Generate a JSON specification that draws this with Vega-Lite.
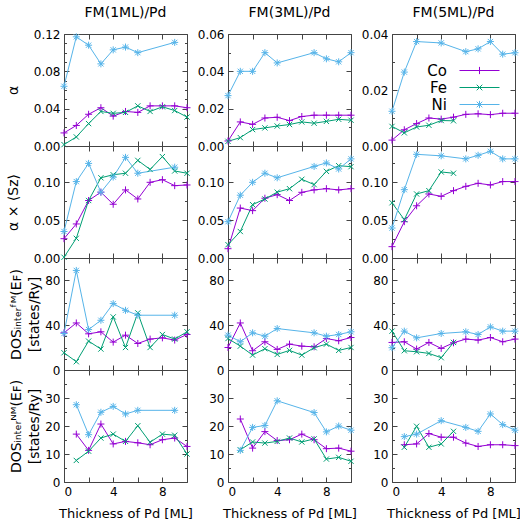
{
  "$schema": "https://vega.github.io/schema/vega-lite/v6.json",
  "background": "white",
  "padding": {"left": 5, "top": 5, "right": 2, "bottom": 0},
  "bounds": "flush",
  "columns": 3,
  "spacing": {"row": 0, "column": 41},
  "resolve": {"scale": {"color": "independent", "shape": "independent"}},
  "config": {
    "font": "DejaVu Sans",
    "view": {"stroke": "#444", "strokeWidth": 1},
    "range": {
      "category": ["#9400d3", "#009e73", "#56b4e9"],
      "symbol": [
        "M0,-1V1M-1,0H1",
        "M-0.75,-0.75L0.75,0.75M-0.75,0.75L0.75,-0.75",
        "M0,-1V1M-1,0H1M-0.75,-0.75L0.75,0.75M-0.75,0.75L0.75,-0.75"
      ]
    },
    "axis": {
      "domain": false, "grid": false, "tickSize": -5, "tickColor": "#444",
      "labelPadding": 9, "labelFont": "DejaVu Sans", "labelFontSize": 12, "labelColor": "black",
      "titleFont": "DejaVu Sans", "titleFontSize": 14, "titleFontWeight": "normal", "titleColor": "black"
    },
    "title": {"font": "DejaVu Sans", "fontSize": 14, "fontWeight": "normal", "offset": 8},
    "legend": {"labelFont": "DejaVu Sans", "labelFontSize": 15, "labelColor": "black"}
  },
  "datasets": {
    "r1c1": [
      {"x": 0, "Co": 0.014, "Fe": 0.0015, "Ni": 0.064},
      {"x": 1, "Co": 0.022, "Fe": 0.0097, "Ni": 0.117},
      {"x": 2, "Co": 0.034, "Fe": 0.024, "Ni": 0.108},
      {"x": 3, "Co": 0.041, "Fe": 0.037, "Ni": 0.088},
      {"x": 4, "Co": 0.032, "Fe": 0.035, "Ni": 0.103},
      {"x": 5, "Co": 0.037, "Fe": 0.036, "Ni": 0.106},
      {"x": 6, "Co": 0.036, "Fe": 0.043, "Ni": 0.100},
      {"x": 7, "Co": 0.043, "Fe": 0.037},
      {"x": 8, "Co": 0.043, "Fe": 0.042},
      {"x": 9, "Co": 0.043, "Fe": 0.038, "Ni": 0.111},
      {"x": 10, "Co": 0.041, "Fe": 0.031}
    ],
    "r1c2": [
      {"x": 0, "Co": 0.0027, "Fe": 0.0025, "Ni": 0.027},
      {"x": 1, "Co": 0.0129, "Fe": 0.0045, "Ni": 0.040},
      {"x": 2, "Co": 0.0116, "Fe": 0.0088, "Ni": 0.040},
      {"x": 3, "Co": 0.015, "Fe": 0.0097, "Ni": 0.050},
      {"x": 4, "Co": 0.0154, "Fe": 0.0107, "Ni": 0.0445},
      {"x": 5, "Co": 0.0136, "Fe": 0.0115},
      {"x": 6, "Co": 0.0158, "Fe": 0.0129},
      {"x": 7, "Co": 0.0165, "Fe": 0.0122, "Ni": 0.050},
      {"x": 8, "Co": 0.0165, "Fe": 0.0132, "Ni": 0.0467},
      {"x": 9, "Co": 0.0165, "Fe": 0.0143, "Ni": 0.0451},
      {"x": 10, "Co": 0.0165, "Fe": 0.0138, "Ni": 0.050}
    ],
    "r1c3": [
      {"x": 0, "Co": 0.0021, "Fe": 0.0070, "Ni": 0.0124},
      {"x": 1, "Co": 0.0058, "Fe": 0.0047, "Ni": 0.0264},
      {"x": 2, "Co": 0.0080, "Fe": 0.0068, "Ni": 0.0373},
      {"x": 3, "Co": 0.0100, "Fe": 0.0074},
      {"x": 4, "Co": 0.0096, "Fe": 0.0091, "Ni": 0.0368},
      {"x": 5, "Co": 0.0103, "Fe": 0.0090},
      {"x": 6, "Co": 0.0113, "Ni": 0.0337},
      {"x": 7, "Co": 0.0115, "Ni": 0.0347},
      {"x": 8, "Co": 0.0112, "Ni": 0.0373},
      {"x": 9, "Co": 0.0117, "Ni": 0.0328},
      {"x": 10, "Co": 0.0117, "Ni": 0.0333}
    ],
    "r2c1": [
      {"x": 0, "Co": 0.0255, "Fe": 0.001, "Ni": 0.035},
      {"x": 1, "Co": 0.045, "Fe": 0.026, "Ni": 0.101},
      {"x": 2, "Co": 0.076, "Fe": 0.076, "Ni": 0.125},
      {"x": 3, "Co": 0.087, "Fe": 0.106, "Ni": 0.087},
      {"x": 4, "Co": 0.071, "Fe": 0.110, "Ni": 0.107},
      {"x": 5, "Co": 0.090, "Fe": 0.112, "Ni": 0.133},
      {"x": 6, "Co": 0.078, "Fe": 0.129, "Ni": 0.112},
      {"x": 7, "Co": 0.100, "Fe": 0.117},
      {"x": 8, "Co": 0.1035, "Fe": 0.134},
      {"x": 9, "Co": 0.0956, "Fe": 0.115, "Ni": 0.120},
      {"x": 10, "Co": 0.0965, "Fe": 0.112}
    ],
    "r2c2": [
      {"x": 0, "Co": 0.0123, "Fe": 0.0176, "Ni": 0.048},
      {"x": 1, "Co": 0.066, "Fe": 0.035, "Ni": 0.083},
      {"x": 2, "Co": 0.0626, "Fe": 0.0705, "Ni": 0.100},
      {"x": 3, "Co": 0.079, "Fe": 0.078, "Ni": 0.112},
      {"x": 4, "Co": 0.0837, "Fe": 0.087, "Ni": 0.106},
      {"x": 5, "Co": 0.076, "Fe": 0.0916},
      {"x": 6, "Co": 0.0868, "Fe": 0.104},
      {"x": 7, "Co": 0.090, "Fe": 0.097, "Ni": 0.121},
      {"x": 8, "Co": 0.0916, "Fe": 0.1145, "Ni": 0.1256},
      {"x": 9, "Co": 0.090, "Fe": 0.122, "Ni": 0.1176},
      {"x": 10, "Co": 0.0916, "Fe": 0.1207, "Ni": 0.131}
    ],
    "r2c3": [
      {"x": 0, "Co": 0.015, "Fe": 0.073, "Ni": 0.0396},
      {"x": 1, "Co": 0.048, "Fe": 0.0507, "Ni": 0.0903},
      {"x": 2, "Co": 0.069, "Fe": 0.0846, "Ni": 0.137},
      {"x": 3, "Co": 0.0846, "Fe": 0.089},
      {"x": 4, "Co": 0.0815, "Fe": 0.1137, "Ni": 0.135},
      {"x": 5, "Co": 0.089, "Fe": 0.112},
      {"x": 6, "Co": 0.0947, "Ni": 0.131},
      {"x": 7, "Co": 0.0987, "Ni": 0.1357},
      {"x": 8, "Co": 0.0965, "Ni": 0.141},
      {"x": 9, "Co": 0.101, "Ni": 0.131},
      {"x": 10, "Co": 0.101, "Ni": 0.131}
    ],
    "r3c1": [
      {"x": 0, "Co": 33.2, "Fe": 15.4, "Ni": 32.6},
      {"x": 1, "Co": 42, "Fe": 7.4, "Ni": 88.9},
      {"x": 2, "Co": 32.3, "Fe": 25.8, "Ni": 36.1},
      {"x": 3, "Co": 34.1, "Fe": 18.7, "Ni": 44.4},
      {"x": 4, "Co": 24.9, "Fe": 47.4, "Ni": 59.3},
      {"x": 5, "Co": 31.1, "Fe": 20.1, "Ni": 53.3},
      {"x": 6, "Co": 23.7, "Fe": 51, "Ni": 48.9},
      {"x": 7, "Co": 27.6, "Fe": 20.1},
      {"x": 8, "Co": 28.7, "Fe": 31.7},
      {"x": 9, "Co": 26.7, "Fe": 27.6, "Ni": 48.9},
      {"x": 10, "Co": 31.7, "Fe": 34.1}
    ],
    "r3c2": [
      {"x": 0, "Co": 20.1, "Fe": 28.1, "Ni": 31.1},
      {"x": 1, "Co": 42, "Fe": 21.3, "Ni": 25.2},
      {"x": 2, "Co": 17.2, "Fe": 13.3, "Ni": 33.2},
      {"x": 3, "Co": 25.2, "Fe": 19, "Ni": 30.2},
      {"x": 4, "Co": 18.4, "Fe": 13.9, "Ni": 37},
      {"x": 5, "Co": 23.1, "Fe": 17.5},
      {"x": 6, "Co": 21.3, "Fe": 13.3},
      {"x": 7, "Co": 20.7, "Fe": 19.9, "Ni": 33.2},
      {"x": 8, "Co": 28.1, "Fe": 23.1, "Ni": 30.2},
      {"x": 9, "Co": 26.1, "Fe": 17.5, "Ni": 31.7},
      {"x": 10, "Co": 29, "Fe": 20.1, "Ni": 34.1}
    ],
    "r3c3": [
      {"x": 0, "Co": 24.6, "Fe": 34.7, "Ni": 19.9},
      {"x": 1, "Co": 25.2, "Fe": 17.2, "Ni": 34.7},
      {"x": 2, "Co": 18.7, "Fe": 16.3, "Ni": 28.7},
      {"x": 3, "Co": 24.6, "Fe": 14.8},
      {"x": 4, "Co": 19.3, "Fe": 11.0, "Ni": 32.6},
      {"x": 5, "Co": 24.3, "Fe": 24.6},
      {"x": 6, "Co": 27.6, "Ni": 34.1},
      {"x": 7, "Co": 26.7, "Ni": 31.7},
      {"x": 8, "Co": 29, "Ni": 38.5},
      {"x": 9, "Co": 25.2, "Ni": 34.7},
      {"x": 10, "Co": 27.6, "Ni": 34.7}
    ],
    "r4c1": [
      {"x": 1, "Co": 17.1, "Fe": 7.7, "Ni": 27.6},
      {"x": 2, "Co": 11.3, "Fe": 11.0, "Ni": 16.9},
      {"x": 3, "Co": 20.7, "Fe": 15.7, "Ni": 24.9},
      {"x": 4, "Co": 13.6, "Fe": 17.1, "Ni": 27.0},
      {"x": 5, "Co": 14.5, "Fe": 14.5, "Ni": 24.3},
      {"x": 6, "Co": 14.0, "Fe": 20.1, "Ni": 25.6},
      {"x": 7, "Co": 13.3, "Fe": 14.2},
      {"x": 8, "Co": 15.1, "Fe": 17.1},
      {"x": 9, "Co": 15.7, "Fe": 16.7, "Ni": 25.6},
      {"x": 10, "Co": 12.7, "Fe": 10.0}
    ],
    "r4c2": [
      {"x": 1, "Co": 22.5, "Fe": 11.5, "Ni": 11.3},
      {"x": 2, "Co": 12.1, "Fe": 14.3, "Ni": 19.5},
      {"x": 3, "Co": 18.0, "Fe": 13.9, "Ni": 20.2},
      {"x": 4, "Co": 14.8, "Fe": 14.5, "Ni": 29.0},
      {"x": 5, "Co": 15.1, "Fe": 15.7},
      {"x": 6, "Co": 17.1, "Fe": 14.3},
      {"x": 7, "Co": 15.1, "Fe": 15.4, "Ni": 24.8},
      {"x": 8, "Co": 11.9, "Fe": 8.2, "Ni": 17.9},
      {"x": 9, "Co": 12.1, "Fe": 8.8, "Ni": 20.0},
      {"x": 10, "Co": 11.0, "Fe": 7.4, "Ni": 18.5}
    ],
    "r4c3": [
      {"x": 1, "Co": 13.3, "Fe": 12.4, "Ni": 16.2},
      {"x": 2, "Co": 13.6, "Fe": 19.9, "Ni": 17.1},
      {"x": 3, "Co": 17.3, "Fe": 12.4},
      {"x": 4, "Co": 16.0, "Fe": 13.6, "Ni": 21.9},
      {"x": 5, "Co": 16.0, "Fe": 18.1},
      {"x": 6, "Co": 13.9, "Ni": 19.5},
      {"x": 7, "Co": 12.7, "Ni": 18.1},
      {"x": 8, "Co": 13.3, "Ni": 24.3},
      {"x": 9, "Co": 13.3, "Ni": 20.5},
      {"x": 10, "Co": 13.0, "Ni": 18.5}
    ]
  },
  "concat": [
    {
      "width": 123, "height": 112,
      "title": "FM(1ML)/Pd",
      "data": {"name": "r1c1"},
      "transform": [{"fold": ["Co", "Fe", "Ni"], "as": ["el", "v"]}, {"filter": "isValid(datum.v)"}],
      "resolve": {"axis": {"x": "independent", "y": "independent"}},
      "layer": [
        {"mark": {"type": "line", "strokeWidth": 1},
         "encoding": {
           "x": {"field": "x", "type": "quantitative", "scale": {"domain": [0, 10], "nice": false}, "axis": {"values": [0, 2, 4, 6, 8, 10], "labels": false, "title": null}},
           "y": {"field": "v", "type": "quantitative", "scale": {"domain": [0, 0.12], "nice": false}, "axis": {"values": [0, 0.01, 0.02, 0.03, 0.04, 0.05, 0.06, 0.07, 0.08, 0.09, 0.1, 0.11, 0.12], "format": ".2f", "labelExpr": "abs(datum.value/0.04 - round(datum.value/0.04)) < 1e-6 ? datum.label : ''", "tickDash": {"condition": {"test": "abs(datum.value/0.04 - round(datum.value/0.04)) < 1e-6", "value": [6, 0]}, "value": [2.5, 10]}, "title": "α", "titlePadding": 13}},
           "color": {"field": "el", "type": "nominal", "legend": null}}},
        {"mark": {"type": "point", "filled": false, "strokeWidth": 1, "size": 49, "opacity": 1},
         "encoding": {
           "x": {"field": "x", "type": "quantitative", "axis": {"orient": "top", "values": [0, 2, 4, 6, 8, 10], "labels": false, "title": null}},
           "y": {"field": "v", "type": "quantitative", "axis": {"orient": "right", "values": [0, 0.01, 0.02, 0.03, 0.04, 0.05, 0.06, 0.07, 0.08, 0.09, 0.1, 0.11, 0.12], "labels": false, "tickDash": {"condition": {"test": "abs(datum.value/0.04 - round(datum.value/0.04)) < 1e-6", "value": [6, 0]}, "value": [2.5, 10]}, "title": null}},
           "color": {"field": "el", "type": "nominal", "legend": null},
           "shape": {"field": "el", "type": "nominal", "legend": null}}}
      ]
    },
    {
      "width": 123, "height": 112,
      "title": "FM(3ML)/Pd",
      "data": {"name": "r1c2"},
      "transform": [{"fold": ["Co", "Fe", "Ni"], "as": ["el", "v"]}, {"filter": "isValid(datum.v)"}],
      "resolve": {"axis": {"x": "independent", "y": "independent"}},
      "layer": [
        {"mark": {"type": "line", "strokeWidth": 1},
         "encoding": {
           "x": {"field": "x", "type": "quantitative", "scale": {"domain": [0, 10], "nice": false}, "axis": {"values": [0, 2, 4, 6, 8, 10], "labels": false, "title": null}},
           "y": {"field": "v", "type": "quantitative", "scale": {"domain": [0, 0.06], "nice": false}, "axis": {"values": [0, 0.01, 0.02, 0.03, 0.04, 0.05, 0.06], "format": ".2f", "labelExpr": "abs(datum.value/0.02 - round(datum.value/0.02)) < 1e-6 ? datum.label : ''", "tickDash": {"condition": {"test": "abs(datum.value/0.02 - round(datum.value/0.02)) < 1e-6", "value": [6, 0]}, "value": [2.5, 10]}, "title": null}},
           "color": {"field": "el", "type": "nominal", "legend": null}}},
        {"mark": {"type": "point", "filled": false, "strokeWidth": 1, "size": 49, "opacity": 1},
         "encoding": {
           "x": {"field": "x", "type": "quantitative", "axis": {"orient": "top", "values": [0, 2, 4, 6, 8, 10], "labels": false, "title": null}},
           "y": {"field": "v", "type": "quantitative", "axis": {"orient": "right", "values": [0, 0.01, 0.02, 0.03, 0.04, 0.05, 0.06], "labels": false, "tickDash": {"condition": {"test": "abs(datum.value/0.02 - round(datum.value/0.02)) < 1e-6", "value": [6, 0]}, "value": [2.5, 10]}, "title": null}},
           "color": {"field": "el", "type": "nominal", "legend": null},
           "shape": {"field": "el", "type": "nominal", "legend": null}}}
      ]
    },
    {
      "width": 123, "height": 112,
      "title": "FM(5ML)/Pd",
      "data": {"name": "r1c3"},
      "transform": [{"fold": ["Co", "Fe", "Ni"], "as": ["el", "v"]}, {"filter": "isValid(datum.v)"}],
      "resolve": {"axis": {"x": "independent", "y": "independent"}, "scale": {"color": "independent", "shape": "independent"}, "legend": {"color": "independent", "shape": "independent"}},
      "layer": [
        {"mark": {"type": "line", "strokeWidth": 1},
         "encoding": {
           "x": {"field": "x", "type": "quantitative", "scale": {"domain": [0, 10], "nice": false}, "axis": {"values": [0, 2, 4, 6, 8, 10], "labels": false, "title": null}},
           "y": {"field": "v", "type": "quantitative", "scale": {"domain": [0, 0.04], "nice": false}, "axis": {"values": [0, 0.01, 0.02, 0.03, 0.04], "format": ".2f", "labelExpr": "abs(datum.value/0.02 - round(datum.value/0.02)) < 1e-6 ? datum.label : ''", "tickDash": {"condition": {"test": "abs(datum.value/0.02 - round(datum.value/0.02)) < 1e-6", "value": [6, 0]}, "value": [2.5, 10]}, "title": null}},
           "color": {"field": "el", "type": "nominal", "legend": null}}},
        {"mark": {"type": "point", "filled": false, "strokeWidth": 1, "size": 49, "opacity": 1},
         "encoding": {
           "x": {"field": "x", "type": "quantitative", "axis": {"orient": "top", "values": [0, 2, 4, 6, 8, 10], "labels": false, "title": null}},
           "y": {"field": "v", "type": "quantitative", "axis": {"orient": "right", "values": [0, 0.01, 0.02, 0.03, 0.04], "labels": false, "tickDash": {"condition": {"test": "abs(datum.value/0.02 - round(datum.value/0.02)) < 1e-6", "value": [6, 0]}, "value": [2.5, 10]}, "title": null}},
           "color": {"field": "el", "type": "nominal", "legend": null},
           "shape": {"field": "el", "type": "nominal", "legend": null}}},
        {"transform": [{"filter": "false"}],
         "mark": {"type": "point", "filled": false, "strokeWidth": 1},
         "encoding": {
           "color": {"field": "el", "type": "nominal",
             "scale": {"domain": ["Co", "Fe", "Ni"], "range": ["#9400d3", "#009e73", "#56b4e9"]},
             "legend": {"title": null, "orient": "none", "legendX": 79, "legendY": 28, "padding": 0,
               "symbolSize": 256, "symbolStrokeWidth": 1, "symbolOpacity": 1,
               "labelAlign": "right", "labelOffset": -41, "rowPadding": 0}},
           "shape": {"field": "el", "type": "nominal",
             "scale": {"domain": ["Co", "Fe", "Ni"], "range": [
               "M-2.5,0H2.5M0,-0.45V0.45",
               "M-2.5,0H2.5M-0.35,-0.35L0.35,0.35M-0.35,0.35L0.35,-0.35",
               "M-2.5,0H2.5M0,-0.45V0.45M-0.35,-0.35L0.35,0.35M-0.35,0.35L0.35,-0.35"]},
             "legend": {"title": null, "orient": "none", "legendX": 79, "legendY": 28, "padding": 0,
               "symbolSize": 256, "symbolStrokeWidth": 1, "symbolOpacity": 1,
               "labelAlign": "right", "labelOffset": -41, "rowPadding": 0}}}}
      ]
    },
    {
      "width": 123, "height": 112,
      "data": {"name": "r2c1"},
      "transform": [{"fold": ["Co", "Fe", "Ni"], "as": ["el", "v"]}, {"filter": "isValid(datum.v)"}],
      "resolve": {"axis": {"x": "independent", "y": "independent"}},
      "layer": [
        {"mark": {"type": "line", "strokeWidth": 1},
         "encoding": {
           "x": {"field": "x", "type": "quantitative", "scale": {"domain": [0, 10], "nice": false}, "axis": {"values": [0, 2, 4, 6, 8, 10], "labels": false, "title": null}},
           "y": {"field": "v", "type": "quantitative", "scale": {"domain": [0, 0.148], "nice": false}, "axis": {"values": [0, 0.025, 0.05, 0.075, 0.1, 0.125], "format": ".2f", "labelExpr": "abs(datum.value/0.05 - round(datum.value/0.05)) < 1e-6 ? datum.label : ''", "tickDash": {"condition": {"test": "abs(datum.value/0.05 - round(datum.value/0.05)) < 1e-6", "value": [6, 0]}, "value": [2.5, 10]}, "title": "α × ⟨Sᴢ⟩", "titlePadding": 13}},
           "color": {"field": "el", "type": "nominal", "legend": null}}},
        {"mark": {"type": "point", "filled": false, "strokeWidth": 1, "size": 49, "opacity": 1},
         "encoding": {
           "x": {"field": "x", "type": "quantitative", "axis": {"orient": "top", "values": [0, 2, 4, 6, 8, 10], "labels": false, "title": null}},
           "y": {"field": "v", "type": "quantitative", "axis": {"orient": "right", "values": [0, 0.025, 0.05, 0.075, 0.1, 0.125], "labels": false, "tickDash": {"condition": {"test": "abs(datum.value/0.05 - round(datum.value/0.05)) < 1e-6", "value": [6, 0]}, "value": [2.5, 10]}, "title": null}},
           "color": {"field": "el", "type": "nominal", "legend": null},
           "shape": {"field": "el", "type": "nominal", "legend": null}}}
      ]
    },
    {
      "width": 123, "height": 112,
      "data": {"name": "r2c2"},
      "transform": [{"fold": ["Co", "Fe", "Ni"], "as": ["el", "v"]}, {"filter": "isValid(datum.v)"}],
      "resolve": {"axis": {"x": "independent", "y": "independent"}},
      "layer": [
        {"mark": {"type": "line", "strokeWidth": 1},
         "encoding": {
           "x": {"field": "x", "type": "quantitative", "scale": {"domain": [0, 10], "nice": false}, "axis": {"values": [0, 2, 4, 6, 8, 10], "labels": false, "title": null}},
           "y": {"field": "v", "type": "quantitative", "scale": {"domain": [0, 0.148], "nice": false}, "axis": {"values": [0, 0.025, 0.05, 0.075, 0.1, 0.125], "format": ".2f", "labelExpr": "abs(datum.value/0.05 - round(datum.value/0.05)) < 1e-6 ? datum.label : ''", "tickDash": {"condition": {"test": "abs(datum.value/0.05 - round(datum.value/0.05)) < 1e-6", "value": [6, 0]}, "value": [2.5, 10]}, "title": null}},
           "color": {"field": "el", "type": "nominal", "legend": null}}},
        {"mark": {"type": "point", "filled": false, "strokeWidth": 1, "size": 49, "opacity": 1},
         "encoding": {
           "x": {"field": "x", "type": "quantitative", "axis": {"orient": "top", "values": [0, 2, 4, 6, 8, 10], "labels": false, "title": null}},
           "y": {"field": "v", "type": "quantitative", "axis": {"orient": "right", "values": [0, 0.025, 0.05, 0.075, 0.1, 0.125], "labels": false, "tickDash": {"condition": {"test": "abs(datum.value/0.05 - round(datum.value/0.05)) < 1e-6", "value": [6, 0]}, "value": [2.5, 10]}, "title": null}},
           "color": {"field": "el", "type": "nominal", "legend": null},
           "shape": {"field": "el", "type": "nominal", "legend": null}}}
      ]
    },
    {
      "width": 123, "height": 112,
      "data": {"name": "r2c3"},
      "transform": [{"fold": ["Co", "Fe", "Ni"], "as": ["el", "v"]}, {"filter": "isValid(datum.v)"}],
      "resolve": {"axis": {"x": "independent", "y": "independent"}},
      "layer": [
        {"mark": {"type": "line", "strokeWidth": 1},
         "encoding": {
           "x": {"field": "x", "type": "quantitative", "scale": {"domain": [0, 10], "nice": false}, "axis": {"values": [0, 2, 4, 6, 8, 10], "labels": false, "title": null}},
           "y": {"field": "v", "type": "quantitative", "scale": {"domain": [0, 0.148], "nice": false}, "axis": {"values": [0, 0.025, 0.05, 0.075, 0.1, 0.125], "format": ".2f", "labelExpr": "abs(datum.value/0.05 - round(datum.value/0.05)) < 1e-6 ? datum.label : ''", "tickDash": {"condition": {"test": "abs(datum.value/0.05 - round(datum.value/0.05)) < 1e-6", "value": [6, 0]}, "value": [2.5, 10]}, "title": null}},
           "color": {"field": "el", "type": "nominal", "legend": null}}},
        {"mark": {"type": "point", "filled": false, "strokeWidth": 1, "size": 49, "opacity": 1},
         "encoding": {
           "x": {"field": "x", "type": "quantitative", "axis": {"orient": "top", "values": [0, 2, 4, 6, 8, 10], "labels": false, "title": null}},
           "y": {"field": "v", "type": "quantitative", "axis": {"orient": "right", "values": [0, 0.025, 0.05, 0.075, 0.1, 0.125], "labels": false, "tickDash": {"condition": {"test": "abs(datum.value/0.05 - round(datum.value/0.05)) < 1e-6", "value": [6, 0]}, "value": [2.5, 10]}, "title": null}},
           "color": {"field": "el", "type": "nominal", "legend": null},
           "shape": {"field": "el", "type": "nominal", "legend": null}}}
      ]
    },
    {
      "width": 123, "height": 112,
      "data": {"name": "r3c1"},
      "transform": [{"fold": ["Co", "Fe", "Ni"], "as": ["el", "v"]}, {"filter": "isValid(datum.v)"}],
      "resolve": {"axis": {"x": "independent", "y": "independent"}},
      "layer": [
        {"mark": {"type": "line", "strokeWidth": 1},
         "encoding": {
           "x": {"field": "x", "type": "quantitative", "scale": {"domain": [0, 10], "nice": false}, "axis": {"values": [0, 2, 4, 6, 8, 10], "labels": false, "title": null}},
           "y": {"field": "v", "type": "quantitative", "scale": {"domain": [0, 100], "nice": false}, "axis": {"values": [0, 10, 20, 30, 40, 50, 60, 70, 80, 90], "format": "d", "labelExpr": "datum.value % 40 === 0 ? datum.label : ''", "tickDash": {"condition": {"test": "datum.value % 40 === 0", "value": [6, 0]}, "value": [2.5, 10]}, "title": ["DOSᵢₙₜₑᵣᶠᴹ(Eꜰ)", "[states/Ry]"], "titlePadding": 3, "titleLineHeight": 18}},
           "color": {"field": "el", "type": "nominal", "legend": null}}},
        {"mark": {"type": "point", "filled": false, "strokeWidth": 1, "size": 49, "opacity": 1},
         "encoding": {
           "x": {"field": "x", "type": "quantitative", "axis": {"orient": "top", "values": [0, 2, 4, 6, 8, 10], "labels": false, "title": null}},
           "y": {"field": "v", "type": "quantitative", "axis": {"orient": "right", "values": [0, 10, 20, 30, 40, 50, 60, 70, 80, 90], "labels": false, "tickDash": {"condition": {"test": "datum.value % 40 === 0", "value": [6, 0]}, "value": [2.5, 10]}, "title": null}},
           "color": {"field": "el", "type": "nominal", "legend": null},
           "shape": {"field": "el", "type": "nominal", "legend": null}}}
      ]
    },
    {
      "width": 123, "height": 112,
      "data": {"name": "r3c2"},
      "transform": [{"fold": ["Co", "Fe", "Ni"], "as": ["el", "v"]}, {"filter": "isValid(datum.v)"}],
      "resolve": {"axis": {"x": "independent", "y": "independent"}},
      "layer": [
        {"mark": {"type": "line", "strokeWidth": 1},
         "encoding": {
           "x": {"field": "x", "type": "quantitative", "scale": {"domain": [0, 10], "nice": false}, "axis": {"values": [0, 2, 4, 6, 8, 10], "labels": false, "title": null}},
           "y": {"field": "v", "type": "quantitative", "scale": {"domain": [0, 100], "nice": false}, "axis": {"values": [0, 10, 20, 30, 40, 50, 60, 70, 80, 90], "format": "d", "labelExpr": "datum.value % 40 === 0 ? datum.label : ''", "tickDash": {"condition": {"test": "datum.value % 40 === 0", "value": [6, 0]}, "value": [2.5, 10]}, "title": null}},
           "color": {"field": "el", "type": "nominal", "legend": null}}},
        {"mark": {"type": "point", "filled": false, "strokeWidth": 1, "size": 49, "opacity": 1},
         "encoding": {
           "x": {"field": "x", "type": "quantitative", "axis": {"orient": "top", "values": [0, 2, 4, 6, 8, 10], "labels": false, "title": null}},
           "y": {"field": "v", "type": "quantitative", "axis": {"orient": "right", "values": [0, 10, 20, 30, 40, 50, 60, 70, 80, 90], "labels": false, "tickDash": {"condition": {"test": "datum.value % 40 === 0", "value": [6, 0]}, "value": [2.5, 10]}, "title": null}},
           "color": {"field": "el", "type": "nominal", "legend": null},
           "shape": {"field": "el", "type": "nominal", "legend": null}}}
      ]
    },
    {
      "width": 123, "height": 112,
      "data": {"name": "r3c3"},
      "transform": [{"fold": ["Co", "Fe", "Ni"], "as": ["el", "v"]}, {"filter": "isValid(datum.v)"}],
      "resolve": {"axis": {"x": "independent", "y": "independent"}},
      "layer": [
        {"mark": {"type": "line", "strokeWidth": 1},
         "encoding": {
           "x": {"field": "x", "type": "quantitative", "scale": {"domain": [0, 10], "nice": false}, "axis": {"values": [0, 2, 4, 6, 8, 10], "labels": false, "title": null}},
           "y": {"field": "v", "type": "quantitative", "scale": {"domain": [0, 100], "nice": false}, "axis": {"values": [0, 10, 20, 30, 40, 50, 60, 70, 80, 90], "format": "d", "labelExpr": "datum.value % 40 === 0 ? datum.label : ''", "tickDash": {"condition": {"test": "datum.value % 40 === 0", "value": [6, 0]}, "value": [2.5, 10]}, "title": null}},
           "color": {"field": "el", "type": "nominal", "legend": null}}},
        {"mark": {"type": "point", "filled": false, "strokeWidth": 1, "size": 49, "opacity": 1},
         "encoding": {
           "x": {"field": "x", "type": "quantitative", "axis": {"orient": "top", "values": [0, 2, 4, 6, 8, 10], "labels": false, "title": null}},
           "y": {"field": "v", "type": "quantitative", "axis": {"orient": "right", "values": [0, 10, 20, 30, 40, 50, 60, 70, 80, 90], "labels": false, "tickDash": {"condition": {"test": "datum.value % 40 === 0", "value": [6, 0]}, "value": [2.5, 10]}, "title": null}},
           "color": {"field": "el", "type": "nominal", "legend": null},
           "shape": {"field": "el", "type": "nominal", "legend": null}}}
      ]
    },
    {
      "width": 123, "height": 112,
      "data": {"name": "r4c1"},
      "transform": [{"fold": ["Co", "Fe", "Ni"], "as": ["el", "v"]}, {"filter": "isValid(datum.v)"}],
      "resolve": {"axis": {"x": "independent", "y": "independent"}},
      "layer": [
        {"mark": {"type": "line", "strokeWidth": 1},
         "encoding": {
           "x": {"field": "x", "type": "quantitative", "scale": {"domain": [0, 10], "nice": false}, "axis": {"values": [0, 2, 4, 6, 8, 10], "labelExpr": "datum.value % 4 === 0 ? datum.label : ''", "title": "Thickness of Pd [ML]", "titleFontSize": 13, "titlePadding": 10}},
           "y": {"field": "v", "type": "quantitative", "scale": {"domain": [0, 40], "nice": false}, "axis": {"values": [0, 5, 10, 15, 20, 25, 30, 35], "format": "d", "labelExpr": "datum.value % 10 === 0 ? datum.label : ''", "tickDash": {"condition": {"test": "datum.value % 10 === 0", "value": [6, 0]}, "value": [2.5, 10]}, "title": ["DOSᵢₙₜₑᵣᴺᴹ(Eꜰ)", "[states/Ry]"], "titlePadding": 3, "titleLineHeight": 18}},
           "color": {"field": "el", "type": "nominal", "legend": null}}},
        {"mark": {"type": "point", "filled": false, "strokeWidth": 1, "size": 49, "opacity": 1},
         "encoding": {
           "x": {"field": "x", "type": "quantitative", "axis": {"orient": "top", "values": [0, 2, 4, 6, 8, 10], "labels": false, "title": null}},
           "y": {"field": "v", "type": "quantitative", "axis": {"orient": "right", "values": [0, 5, 10, 15, 20, 25, 30, 35], "labels": false, "tickDash": {"condition": {"test": "datum.value % 10 === 0", "value": [6, 0]}, "value": [2.5, 10]}, "title": null}},
           "color": {"field": "el", "type": "nominal", "legend": null},
           "shape": {"field": "el", "type": "nominal", "legend": null}}}
      ]
    },
    {
      "width": 123, "height": 112,
      "data": {"name": "r4c2"},
      "transform": [{"fold": ["Co", "Fe", "Ni"], "as": ["el", "v"]}, {"filter": "isValid(datum.v)"}],
      "resolve": {"axis": {"x": "independent", "y": "independent"}},
      "layer": [
        {"mark": {"type": "line", "strokeWidth": 1},
         "encoding": {
           "x": {"field": "x", "type": "quantitative", "scale": {"domain": [0, 10], "nice": false}, "axis": {"values": [0, 2, 4, 6, 8, 10], "labelExpr": "datum.value % 4 === 0 ? datum.label : ''", "title": "Thickness of Pd [ML]", "titleFontSize": 13, "titlePadding": 10}},
           "y": {"field": "v", "type": "quantitative", "scale": {"domain": [0, 40], "nice": false}, "axis": {"values": [0, 5, 10, 15, 20, 25, 30, 35], "format": "d", "labelExpr": "datum.value % 10 === 0 ? datum.label : ''", "tickDash": {"condition": {"test": "datum.value % 10 === 0", "value": [6, 0]}, "value": [2.5, 10]}, "title": null}},
           "color": {"field": "el", "type": "nominal", "legend": null}}},
        {"mark": {"type": "point", "filled": false, "strokeWidth": 1, "size": 49, "opacity": 1},
         "encoding": {
           "x": {"field": "x", "type": "quantitative", "axis": {"orient": "top", "values": [0, 2, 4, 6, 8, 10], "labels": false, "title": null}},
           "y": {"field": "v", "type": "quantitative", "axis": {"orient": "right", "values": [0, 5, 10, 15, 20, 25, 30, 35], "labels": false, "tickDash": {"condition": {"test": "datum.value % 10 === 0", "value": [6, 0]}, "value": [2.5, 10]}, "title": null}},
           "color": {"field": "el", "type": "nominal", "legend": null},
           "shape": {"field": "el", "type": "nominal", "legend": null}}}
      ]
    },
    {
      "width": 123, "height": 112,
      "data": {"name": "r4c3"},
      "transform": [{"fold": ["Co", "Fe", "Ni"], "as": ["el", "v"]}, {"filter": "isValid(datum.v)"}],
      "resolve": {"axis": {"x": "independent", "y": "independent"}},
      "layer": [
        {"mark": {"type": "line", "strokeWidth": 1},
         "encoding": {
           "x": {"field": "x", "type": "quantitative", "scale": {"domain": [0, 10], "nice": false}, "axis": {"values": [0, 2, 4, 6, 8, 10], "labelExpr": "datum.value % 4 === 0 ? datum.label : ''", "title": "Thickness of Pd [ML]", "titleFontSize": 13, "titlePadding": 10}},
           "y": {"field": "v", "type": "quantitative", "scale": {"domain": [0, 40], "nice": false}, "axis": {"values": [0, 5, 10, 15, 20, 25, 30, 35], "format": "d", "labelExpr": "datum.value % 10 === 0 ? datum.label : ''", "tickDash": {"condition": {"test": "datum.value % 10 === 0", "value": [6, 0]}, "value": [2.5, 10]}, "title": null}},
           "color": {"field": "el", "type": "nominal", "legend": null}}},
        {"mark": {"type": "point", "filled": false, "strokeWidth": 1, "size": 49, "opacity": 1},
         "encoding": {
           "x": {"field": "x", "type": "quantitative", "axis": {"orient": "top", "values": [0, 2, 4, 6, 8, 10], "labels": false, "title": null}},
           "y": {"field": "v", "type": "quantitative", "axis": {"orient": "right", "values": [0, 5, 10, 15, 20, 25, 30, 35], "labels": false, "tickDash": {"condition": {"test": "datum.value % 10 === 0", "value": [6, 0]}, "value": [2.5, 10]}, "title": null}},
           "color": {"field": "el", "type": "nominal", "legend": null},
           "shape": {"field": "el", "type": "nominal", "legend": null}}}
      ]
    }
  ]
}
